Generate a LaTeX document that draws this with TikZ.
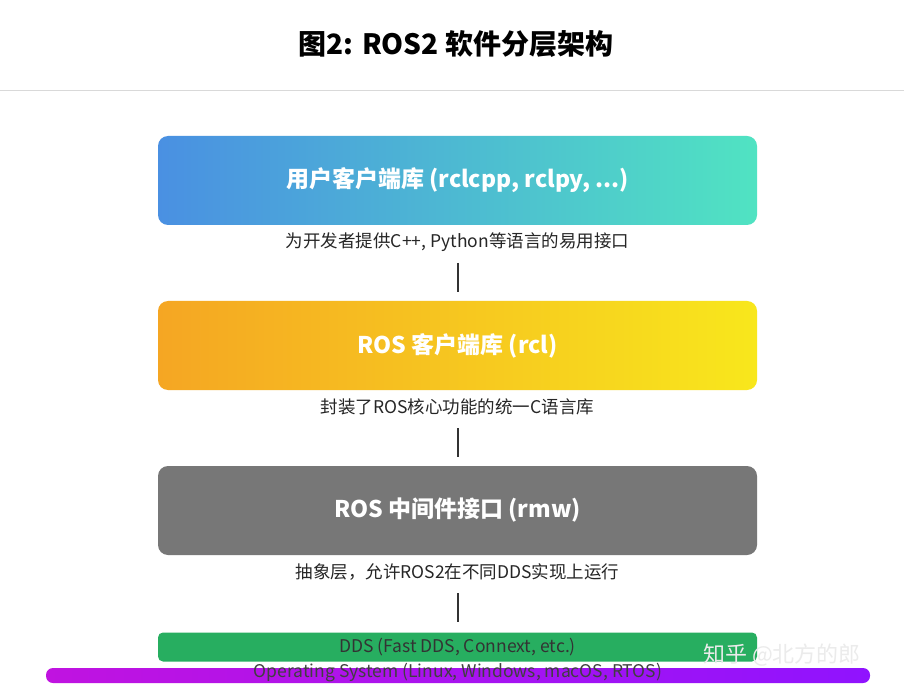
\documentclass[tikz,border=0pt]{standalone}
\usepackage{fontspec}
\setmainfont{Noto Sans CJK SC}
\begin{document}
\begin{tikzpicture}[x=1pt,y=-1pt,
 box/.style={rounded corners=10pt,minimum width=599pt,minimum height=89pt,inner sep=0pt,text=white,font=\bfseries\fontsize{23}{26}\selectfont},
 captxt/.style={font=\fontsize{17.5}{20}\selectfont,text=black!85},
 conn/.style={line width=2.5pt,draw=black!80}]
\useasboundingbox[fill=white] (0,0) rectangle (904,692);
\node[font=\bfseries\fontsize{28}{31}\selectfont] (title) at (456,44) {图2: ROS2 软件分层架构};
\draw[black!15] (0,90) -- (904,90);
\node[box,left color={rgb,255:red,74;green,144;blue,226},right color={rgb,255:red,80;green,227;blue,194}] (b1) at (457.5,180.5) {用户客户端库 (rclcpp, rclpy, ...)};
\node[captxt] (c1) at (457.5,242) {为开发者提供C++, Python等语言的易用接口};
\node[box,left color={rgb,255:red,245;green,166;blue,35},right color={rgb,255:red,248;green,231;blue,28}] (b2) at (457.5,345.5) {ROS 客户端库 (rcl)};
\node[captxt] (c2) at (457.5,407) {封装了ROS核心功能的统一C语言库};
\node[box,fill={rgb,255:red,119;green,119;blue,119}] (b3) at (457.5,510.5) {ROS 中间件接口 (rmw)};
\node[captxt] (c3) at (457.5,572) {抽象层，允许ROS2在不同DDS实现上运行};
\node[rounded corners=5pt,minimum width=599pt,minimum height=29pt,inner sep=0pt,fill={rgb,255:red,39;green,174;blue,96},font=\fontsize{17.5}{20}\selectfont,text=black!80] (dds) at (457.5,647) {DDS (Fast DDS, Connext, etc.)};
\node[rounded corners=7pt,minimum width=824pt,minimum height=15pt,inner sep=0pt,left color={rgb,255:red,192;green,19;blue,224},right color={rgb,255:red,144;green,19;blue,254}] (os) at (458,675.5) {};
\node[font=\fontsize{17.5}{20}\selectfont,text=black!75] (ost) at (458,673) {Operating System (Linux, Windows, macOS, RTOS)};
\coordinate (a1) at (458,263); \coordinate (a2) at (458,292);
\coordinate (a3) at (458,428); \coordinate (a4) at (458,457);
\coordinate (a5) at (458,593); \coordinate (a6) at (458,622);
\draw[conn] (a1) -- (a2); \draw[conn] (a3) -- (a4); \draw[conn] (a5) -- (a6);
\node[font=\fontsize{22}{24}\selectfont,text=black!8] (wm) at (782,655) {知乎 @北方的郎};
\end{tikzpicture}
\end{document}
